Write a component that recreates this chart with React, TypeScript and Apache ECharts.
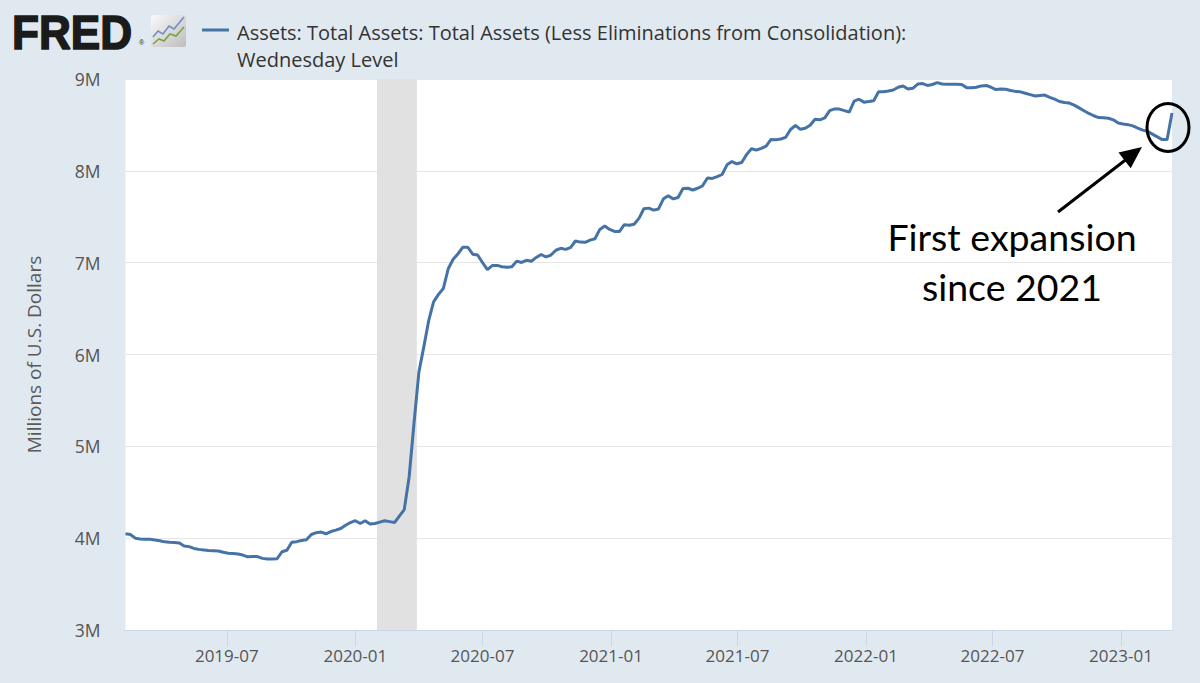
import React, { useEffect, useRef } from "react";
import * as echarts from "echarts";

// Weekly (Wednesday) observations, first one on 2019-02-06, values in "M" (millions of millions of USD)
const START_DATE = [2019, 1, 6]; // year, monthIndex, day
const assets2019 = [
  4.047, 4.04, 4.0, 3.992, 3.988, 3.988, 3.98, 3.972, 3.96, 3.955,
  3.953, 3.948, 3.915, 3.908, 3.888, 3.878, 3.872, 3.866, 3.864, 3.86,
  3.846, 3.836, 3.832, 3.828, 3.816, 3.797, 3.8, 3.8, 3.78, 3.774,
  3.774, 3.776, 3.852, 3.868, 3.955, 3.962, 3.975, 3.982, 4.04, 4.06,
  4.066, 4.048, 4.072, 4.087, 4.105, 4.14, 4.17,
];
const assets2020 = [
  4.19, 4.16, 4.19, 4.155, 4.16, 4.175, 4.19, 4.18, 4.17, 4.241,
  4.311, 4.666, 5.254, 5.811, 6.083, 6.368, 6.573, 6.655, 6.719, 6.934,
  7.037, 7.097, 7.169, 7.168, 7.092, 7.083, 7.002, 6.925, 6.968, 6.97,
  6.955, 6.949, 6.955, 7.017, 7.002, 7.026, 7.016, 7.057, 7.089, 7.062,
  7.083, 7.135, 7.156, 7.145, 7.164, 7.236, 7.224, 7.222, 7.246, 7.26,
  7.362, 7.398, 7.362,
];
const assets2021 = [
  7.34, 7.339, 7.414, 7.408, 7.418, 7.482, 7.587, 7.594, 7.572, 7.585,
  7.695, 7.729, 7.694, 7.71, 7.807, 7.81, 7.791, 7.81, 7.837, 7.922,
  7.917, 7.936, 7.96, 8.065, 8.101, 8.077, 8.091, 8.176, 8.241, 8.225,
  8.244, 8.27, 8.342, 8.338, 8.347, 8.365, 8.45, 8.495, 8.452, 8.464,
  8.496, 8.562, 8.556, 8.577, 8.656, 8.674, 8.672, 8.656, 8.64, 8.76,
  8.78, 8.748,
];
const assets2022 = [
  8.755, 8.764, 8.862, 8.862, 8.87, 8.88, 8.91, 8.924, 8.89, 8.899,
  8.945, 8.95, 8.93, 8.94, 8.96, 8.945, 8.942, 8.942, 8.942, 8.94,
  8.906, 8.905, 8.91, 8.925, 8.93, 8.91, 8.885, 8.89, 8.888, 8.875,
  8.865, 8.86, 8.845, 8.83, 8.815, 8.82, 8.825, 8.8, 8.78, 8.755,
  8.745, 8.738, 8.715, 8.685, 8.655, 8.625, 8.6, 8.58, 8.577, 8.573,
  8.555, 8.52,
];
const assets2023 = [8.51, 8.503, 8.49, 8.465, 8.443, 8.43, 8.4, 8.37, 8.34, 8.342, 8.63];

const xTickLabels = ["2019-07", "2020-01", "2020-07", "2021-01", "2021-07", "2022-01", "2022-07", "2023-01"];
const yTickLabels = ["3M", "4M", "5M", "6M", "7M", "8M", "9M"];
const recession = ["2020-02-01", "2020-03-29"];

const TITLE_1 = "Assets: Total Assets: Total Assets (Less Eliminations from Consolidation):";
const TITLE_2 = "Wednesday Level";
const Y_NAME = "Millions of U.S. Dollars";
const NOTE_1 = "First expansion";
const NOTE_2 = "since 2021";

const LINE_COLOR = "#4572a7";

function ymdToTs(s: string) {
  const [y, m, d] = s.split("-").map(Number);
  return new Date(y, m - 1, d || 1).getTime();
}

export default function App() {
  const ref = useRef<HTMLDivElement>(null);
  useEffect(() => {
    if (!ref.current) return;
    const chart = echarts.init(ref.current, undefined, { renderer: "svg" });
    const values = [...assets2019, ...assets2020, ...assets2021, ...assets2022, ...assets2023];
    const data = values.map((v, i) => [
      new Date(START_DATE[0], START_DATE[1], START_DATE[2] + 7 * i).getTime(),
      v,
    ]);
    const tickTs = xTickLabels.map(ymdToTs);
    const font = '"Open Sans", sans-serif';

    chart.setOption({
      animation: false,
      backgroundColor: "#e1e9f0",
      grid: {
        left: 125.5,
        right: 28,
        top: 79,
        bottom: 53,
        show: true,
        backgroundColor: "#ffffff",
        borderWidth: 0,
      },
      xAxis: {
        type: "value",
        min: data[0][0],
        max: data[data.length - 1][0],
        axisLine: { show: true, lineStyle: { color: "#ccd6eb", width: 1 } },
        axisTick: { show: true, customValues: tickTs, length: 16, lineStyle: { color: "#ccd6eb" } },
        axisLabel: {
          customValues: tickTs,
          margin: 17,
          fontSize: 17,
          fontFamily: font,
          color: "#555555",
          formatter: (v: number) => {
            const idx = tickTs.indexOf(v);
            return idx >= 0 ? xTickLabels[idx] : "";
          },
          hideOverlap: false,
        },
        splitLine: { show: false },
      },
      yAxis: {
        type: "value",
        min: 3,
        max: 9,
        interval: 1,
        name: Y_NAME,
        nameLocation: "middle",
        nameGap: 82,
        nameRotate: 90,
        nameTextStyle: { fontSize: 19, fontFamily: font, color: "#595959" },
        axisLine: { show: false },
        axisTick: { show: false },
        axisLabel: {
          margin: 25,
          fontSize: 17.5,
          fontFamily: font,
          color: "#555555",
          formatter: (v: number) => yTickLabels[Math.round(v) - 3] ?? "",
        },
        splitLine: { show: true, lineStyle: { color: "#e6e6e6", width: 1 } },
      },
      series: [
        {
          type: "line",
          data,
          showSymbol: false,
          symbol: "none",
          lineStyle: { color: LINE_COLOR, width: 3 },
          z: 3,
          markArea: {
            silent: true,
            itemStyle: { color: "#e1e1e1" },
            data: [[{ xAxis: ymdToTs(recession[0]) }, { xAxis: ymdToTs(recession[1]) }]],
          },
        },
      ],
      graphic: [
        {
          type: "text",
          x: 12,
          y: 8,
          scaleX: 0.92,
          style: {
            text: "FRED",
            font: 'bold 48px "Liberation Sans", Arial, sans-serif',
            fill: "#1b1b1b",
            stroke: "#1b1b1b",
            lineWidth: 1.6,
          },
        },
        {
          type: "text",
          left: 139,
          top: 39,
          style: { text: "®", font: '7px "Liberation Sans", sans-serif', fill: "#1b1b1b" },
        },
        {
          type: "rect",
          shape: { x: 151, y: 15, width: 35, height: 32, r: 2 },
          style: {
            fill: new echarts.graphic.LinearGradient(0, 0, 1, 1, [
              { offset: 0, color: "#fafafa" },
              { offset: 1, color: "#bdbdbd" },
            ]),
          },
        },
        {
          type: "polyline",
          shape: { points: [[153, 37], [158, 31], [163, 34], [169, 26], [174, 29], [184, 17]] },
          style: { stroke: "#6f8fc6", lineWidth: 1.6, fill: "none" },
        },
        {
          type: "polyline",
          shape: { points: [[153, 44], [159, 39], [164, 41], [170, 34], [176, 36], [184, 27]] },
          style: { stroke: "#7aa244", lineWidth: 1.6, fill: "none" },
        },
        {
          type: "line",
          shape: { x1: 202, y1: 30, x2: 229, y2: 30 },
          style: { stroke: LINE_COLOR, lineWidth: 3 },
        },
        {
          type: "text",
          x: 237,
          y: 32,
          style: {
            text: TITLE_1,
            font: '20px "Open Sans", sans-serif',
            fill: "#333333",
            verticalAlign: "middle",
          },
        },
        {
          type: "text",
          x: 237,
          y: 59,
          style: {
            text: TITLE_2,
            font: '20px "Open Sans", sans-serif',
            fill: "#333333",
            verticalAlign: "middle",
          },
        },
        {
          type: "ellipse",
          shape: { cx: 1168, cy: 127.5, rx: 21, ry: 24 },
          style: { stroke: "#000000", lineWidth: 3, fill: "none" },
          z: 100,
        },
        {
          type: "line",
          shape: { x1: 1058, y1: 212, x2: 1128, y2: 158 },
          style: { stroke: "#000000", lineWidth: 3 },
          z: 100,
        },
        {
          type: "polygon",
          shape: { points: [[1142, 147], [1130.7, 168.3], [1118.5, 152.5]] },
          style: { fill: "#000000" },
          z: 100,
        },
        {
          type: "text",
          x: 1012,
          y: 236,
          style: {
            text: NOTE_1,
            font: '37.5px Lato, sans-serif',
            fill: "#000000",
            align: "center",
            verticalAlign: "middle",
          },
          z: 100,
        },
        {
          type: "text",
          x: 1012,
          y: 286,
          style: {
            text: NOTE_2,
            font: '37.5px Lato, sans-serif',
            fill: "#000000",
            align: "center",
            verticalAlign: "middle",
          },
          z: 100,
        },
      ],
    });
    return () => chart.dispose();
  }, []);
  return (
    <div
      ref={ref}
      style={{ position: "fixed", left: 0, top: 0, width: 1200, height: 683 }}
    />
  );
}
